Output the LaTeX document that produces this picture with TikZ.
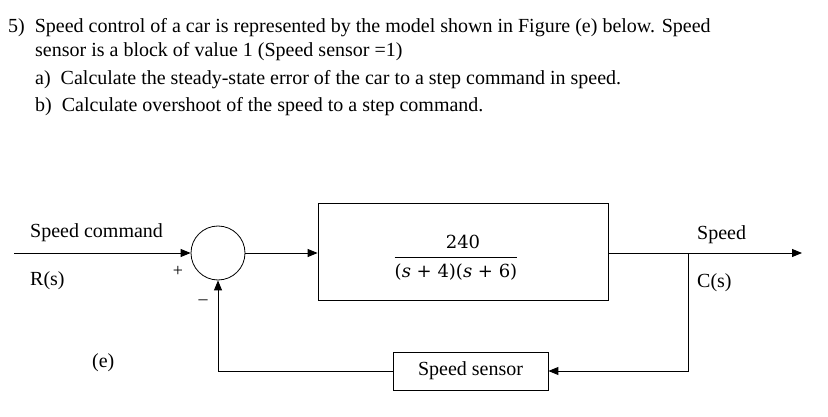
\documentclass[tikz,border=0pt]{standalone}
\usepackage{fontspec}
\setmainfont{Liberation Serif}
\newfontfamily\fracfont{DejaVu Serif}
\usetikzlibrary{arrows.meta}
\begin{document}
\begin{tikzpicture}[x=1pt,y=-1pt,
  blk/.style={draw,line width=0.8pt,inner sep=0pt},
  conn/.style={line width=0.9pt},
  arr/.style={conn,-{Triangle[length=10pt,width=8pt]}},
  txt/.style={anchor=base west,inner sep=0pt,font=\fontsize{20}{22}\selectfont},
  ff/.style={font=\fracfont\fontsize{18}{20}\selectfont,inner sep=0pt}]
\useasboundingbox (0,0) rectangle (828,417);
\node[txt] (l1) at (8,33) {5)\ \ Speed control of a car is represented by the model shown in Figure (e) below. Speed};
\node[txt] (l2) at (35,57) {sensor is a block of value 1 (Speed sensor =1)};
\node[txt] (l3) at (35,85) {a)\ \ Calculate the steady-state error of the car to a step command in speed.};
\node[txt] (l4) at (35,112) {b)\ \ Calculate overshoot of the speed to a step command.};
\node[draw,circle,line width=0.8pt,minimum size=54pt,inner sep=0pt] (sum) at (218,253) {};
\node[blk,minimum width=290pt,minimum height=97pt] (g) at (463,251.5) {};
\node[ff] (num) at (463,242) {240};
\node[ff] (den) at (456,272) {(\textit{s} + 4)(\textit{s} + 6)};
\draw[line width=0.8pt] (den.west |- 0,257) -- (den.east |- 0,257);
\node[blk,minimum width=155pt,minimum height=38pt] (h) at (470.5,371) {};
\node[font=\fontsize{20}{22}\selectfont] (hl) at (470.5,371) {Speed sensor};
\coordinate (in) at (14,253);
\coordinate (out) at (802,253);
\coordinate (tap) at (688,253);
\draw[arr] (in) -- (sum.west);
\draw[arr] (sum.east) -- (g.west |- sum.east);
\draw[arr] (g.east |- tap) -- (out);
\draw[arr] (tap) |- (h.east);
\draw[arr] (h.west) -| (sum.south);
\node[txt] (sc) at (30,237) {Speed command};
\node[txt] (rs) at (30,285) {R(s)};
\node[txt] (sp) at (697,240) {Speed};
\node[txt] (cs) at (697,287) {C(s)};
\node[font=\fontsize{18}{20}\selectfont] (plus) at (178,271) {+};
\node[font=\fontsize{18}{20}\selectfont] (minus) at (203,302) {\textendash};
\node[txt] (e) at (92,367) {(e)};
\end{tikzpicture}
\end{document}
